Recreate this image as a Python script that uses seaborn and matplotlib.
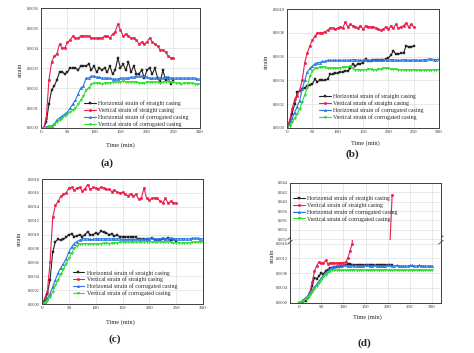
import matplotlib
matplotlib.use("Agg")
import matplotlib.pyplot as plt
import seaborn as sns
import numpy as np
from matplotlib.ticker import FormatStrFormatter, MultipleLocator

# strain values are typed in units of 1e-4
SCALE = 1e-4

t_straight = list(range(0, 251, 5))
t_corrugated = list(range(0, 301, 5))

# ---------------- panel (a) ----------------
black_a = [0, 0, 0.3, 1.2, 1.9, 2.1, 2.4, 2.8, 2.8, 2.7,
           2.8, 3.0, 3.0, 3.0, 2.9, 3.1, 3.1, 3.1, 3.2, 2.9,
           3.1, 2.8, 3.0, 2.9, 3.0, 2.8, 3.1, 2.7, 2.9, 3.5,
           3.0, 3.2, 2.9, 3.3, 2.8, 3.1, 2.7, 2.7, 2.9, 2.5,
           2.9, 3.0, 2.7, 3.0, 2.5, 2.3, 2.9, 2.4, 2.5, 2.2,
           2.4]
red_a = [0, 0, 0.5, 2.4, 3.3, 3.6, 3.7, 4.2, 4.0, 4.0,
         4.3, 4.4, 4.6, 4.5, 4.5, 4.6, 4.6, 4.6, 4.6, 4.5,
         4.5, 4.5, 4.5, 4.5, 4.6, 4.6, 4.5, 4.7, 4.8, 5.2,
         4.9, 4.6, 4.7, 4.6, 4.5, 4.5, 4.4, 4.2, 4.3, 4.2,
         4.3, 4.5, 4.3, 4.2, 4.1, 3.9, 3.9, 3.8, 3.6, 3.5,
         3.5]
blue_a = [0, 0, 0.05, 0.1, 0.1, 0.2, 0.4, 0.5, 0.6, 0.7,
          0.8, 1.0, 1.2, 1.4, 1.7, 2.0, 2.1, 2.5, 2.5, 2.6,
          2.6, 2.55, 2.55, 2.5, 2.5, 2.5, 2.5, 2.45, 2.45, 2.45,
          2.5, 2.5, 2.5, 2.5, 2.55, 2.55, 2.6, 2.6, 2.6, 2.6,
          2.55, 2.5, 2.5, 2.5, 2.5, 2.5, 2.5, 2.55, 2.55, 2.5,
          2.5, 2.5, 2.5, 2.5, 2.5, 2.5, 2.5, 2.5, 2.5, 2.45,
          2.45]
green_a = [0, 0, 0, 0.05, 0.05, 0.2, 0.3, 0.4, 0.5, 0.6,
           0.7, 0.8, 0.9, 1.0, 1.2, 1.4, 1.6, 1.9, 2.0, 2.2,
           2.25, 2.25, 2.25, 2.2, 2.25, 2.25, 2.25, 2.3, 2.3, 2.3,
           2.3, 2.35, 2.3, 2.3, 2.3, 2.3, 2.3, 2.25, 2.25, 2.25,
           2.3, 2.3, 2.3, 2.3, 2.3, 2.25, 2.3, 2.3, 2.35, 2.3,
           2.3, 2.25, 2.25, 2.2, 2.25, 2.25, 2.25, 2.25, 2.2, 2.2,
           2.2]

# ---------------- panel (b) ----------------
black_b = [0, 0.5, 1.2, 2.0, 3.0, 3.1, 3.3, 3.4, 3.5, 3.6,
           3.7, 4.1, 3.9, 4.0, 4.0, 4.0, 4.1, 4.5, 4.5, 4.6,
           4.6, 4.7, 4.7, 4.8, 4.8, 5.0, 5.4, 5.2, 5.4, 5.4,
           5.5, 5.8, 5.6, 5.6, 5.7, 5.7, 5.7, 5.7, 5.7, 5.8,
           5.9, 6.1, 6.5, 6.2, 6.2, 6.3, 6.3, 6.9, 6.8, 6.8,
           6.9]
red_b = [0, 0.6, 1.6, 2.4, 2.7, 3.2, 4.0, 5.5, 6.3, 6.9,
         7.4, 7.7, 8.0, 8.0, 8.0, 8.1, 8.2, 8.4, 8.4, 8.3,
         8.4, 8.5, 8.4, 8.9, 8.5, 8.7, 8.6, 8.5, 8.4, 8.6,
         8.3, 8.6, 8.5, 8.5, 8.5, 8.4, 8.3, 8.2, 8.3, 8.5,
         8.3, 8.6, 8.4, 8.7, 8.4, 8.5, 8.6, 8.8, 8.5, 8.7,
         8.5]
blue_b = [0, 0.3, 0.8, 1.3, 1.8, 2.3, 3.3, 4.0, 4.7, 5.0,
          5.2, 5.4, 5.5, 5.5, 5.6, 5.6, 5.7, 5.7, 5.7, 5.7,
          5.7, 5.7, 5.7, 5.7, 5.7, 5.7, 5.75, 5.75, 5.7, 5.7,
          5.7, 5.75, 5.7, 5.7, 5.7, 5.7, 5.7, 5.7, 5.75, 5.75,
          5.7, 5.75, 5.75, 5.7, 5.7, 5.7, 5.75, 5.75, 5.7, 5.7,
          5.75, 5.7, 5.7, 5.7, 5.75, 5.75, 5.8, 5.8, 5.75, 5.75,
          5.8]
green_b = [0, 0.2, 0.5, 0.8, 1.2, 1.6, 2.2, 2.8, 3.4, 4.4,
           4.8, 5.0, 5.0, 5.1, 5.1, 5.1, 5.0, 5.0, 5.0, 5.0,
           5.0, 5.05, 5.1, 5.1, 5.15, 5.2, 5.0, 4.9, 4.9, 4.9,
           4.9, 4.9, 4.95, 4.95, 4.9, 4.9, 4.95, 4.95, 5.0, 5.0,
           5.0, 4.95, 4.95, 4.95, 4.9, 4.9, 4.9, 4.9, 4.9, 4.9,
           4.9, 4.9, 4.85, 4.85, 4.85, 4.9, 4.85, 4.85, 4.9, 4.9,
           4.9]

# ---------------- panel (c) ----------------
black_c = [0, 0.5, 1.5, 3.5, 7.5, 9.0, 9.3, 9.2, 9.3, 9.6,
           10.0, 10.1, 9.7, 9.8, 10.0, 9.7, 10.0, 10.4, 10.0, 10.0,
           10.2, 10.1, 10.5, 10.3, 10.2, 10.0, 10.1, 9.8, 9.9, 9.7,
           9.7, 9.6, 9.7, 9.6, 9.7, 9.6, 9.3, 9.4, 9.3, 9.3,
           9.4, 9.5, 9.2, 9.2, 9.2, 9.4, 9.3, 9.5, 9.2, 9.3,
           9.1]
red_c = [0, 0.8, 1.8, 6.0, 12.5, 14.2, 14.8, 15.5, 15.8, 16.0,
         16.7, 16.8, 16.4, 16.7, 16.8, 16.3, 16.6, 17.2, 16.5, 16.8,
         16.7, 16.6, 16.8, 16.7, 16.5, 16.5, 16.2, 16.4, 16.1, 16.0,
         16.1, 15.8, 15.6, 15.9, 15.5, 15.8, 15.1, 15.2, 16.7, 15.2,
         15.0, 15.2, 15.3, 15.2, 14.8, 14.6, 15.2, 14.5, 14.8, 14.6,
         14.5]
blue_c = [0, 0.3, 0.8, 1.5, 2.5, 3.5, 4.5, 5.2, 5.8, 6.5,
          7.5, 8.2, 8.7, 9.0, 9.2, 9.4, 9.4, 9.4, 9.3, 9.3,
          9.4, 9.4, 9.4, 9.4, 9.4, 9.4, 9.4, 9.4, 9.4, 9.4,
          9.3, 9.3, 9.3, 9.3, 9.3, 9.3, 9.3, 9.3, 9.3, 9.4,
          9.4, 9.5, 9.4, 9.4, 9.4, 9.5, 9.4, 9.4, 9.5, 9.4,
          9.4, 9.4, 9.4, 9.4, 9.4, 9.4, 9.5, 9.5, 9.5, 9.4,
          9.4]
green_c = [0, 0.2, 0.5, 1.0, 1.8, 2.7, 3.5, 4.3, 5.0, 5.8,
           6.6, 7.3, 8.0, 8.4, 8.6, 8.7, 8.7, 8.7, 8.7, 8.6,
           8.7, 8.7, 8.7, 8.8, 8.8, 8.7, 8.8, 8.8, 8.8, 8.9,
           8.9, 8.9, 8.9, 8.9, 8.9, 8.9, 8.9, 8.9, 9.0, 9.0,
           9.0, 8.9, 8.9, 8.9, 8.9, 8.9, 9.0, 8.9, 8.9, 8.8,
           8.8, 8.8, 8.8, 8.8, 8.8, 8.8, 8.9, 8.9, 8.9, 8.9,
           8.9]

# ---------------- panel (d) ----------------
t_black_d = list(range(0, 211, 5))
black_d = [0, 0, 0.3, 0.5, 1.2, 2.5, 4.5, 6.8, 6.5, 7.2,
           8.0, 7.8, 8.5, 9.0, 9.3, 9.5, 9.6, 9.8, 9.8, 9.9,
           10.0, 10.2, 10.5, 10.4, 10.3, 10.3, 10.2, 10.3, 10.2, 10.3,
           10.2, 10.2, 10.3, 10.3, 10.2, 10.2, 10.3, 10.3, 10.3, 10.2,
           10.3, 10.3, 10.2]
t_red_d = [0, 5, 10, 15, 20, 25, 30, 35, 40, 45, 50, 55, 60, 65, 70,
           75, 80, 85, 90, 95, 100, 105, 110, 115, 120, 205, 210]
red_d = [0, 0.2, 0.8, 1.2, 1.8, 3.0, 5.5, 8.5, 10.0, 11.0,
         10.8, 10.7, 11.5, 10.6, 10.8, 10.8, 10.8, 10.8, 10.8, 10.9,
         10.9, 11.0, 12.0, 14.0, 16.0, 310, 414]
blue_d = [0, 0.3, 0.7, 1.2, 1.8, 2.6, 3.4, 4.2, 5.0, 5.8,
          6.6, 7.4, 8.0, 8.6, 9.2, 9.6, 9.8, 10.0, 10.0, 10.0,
          10.1, 10.1, 10.0, 10.0, 10.1, 10.0, 10.0, 10.0, 10.0, 10.0,
          10.1, 10.1, 10.0, 10.0, 10.1, 10.0, 10.0, 10.0, 10.0, 10.0,
          10.1, 10.1, 10.0, 10.0, 10.1, 10.0, 10.0, 10.0, 10.0, 10.0,
          10.1, 10.1, 10.0, 10.0, 10.1, 10.0, 10.0, 10.0, 10.0, 10.0,
          10.0]
green_d = [0, 0.2, 0.5, 1.0, 1.5, 2.2, 3.0, 3.8, 4.6, 5.4,
           6.2, 7.0, 7.6, 8.2, 8.6, 8.8, 8.8, 8.8, 8.8, 8.8,
           8.8, 8.8, 8.8, 8.8, 8.8, 8.85, 8.8, 8.8, 8.8, 8.8,
           8.8, 8.8, 8.8, 8.8, 8.85, 8.8, 8.8, 8.8, 8.8, 8.8,
           8.8, 8.8, 8.8, 8.8, 8.8, 8.8, 8.8, 8.8, 8.8, 8.8,
           8.8, 8.8, 8.8, 8.8, 8.8, 8.8, 8.8, 8.8, 8.8, 8.8,
           8.8]

labels = ["Horizontal strain of straight casing",
          "Vertical strain of straight casing",
          "Horizontal strain of corrugated casing",
          "Vertical strain of corrugated casing"]
colors = ["#222222", "#ec1f4b", "#2a78e6", "#2fe02f"]
markers = ["s", "o", "^", "v"]

sns.set_theme(style="whitegrid")
plt.rcParams["font.family"] = ["Liberation Serif", "DejaVu Serif"]
plt.rcParams["axes.edgecolor"] = "#404040"
plt.rcParams["axes.linewidth"] = 0.7
plt.rcParams["grid.color"] = "#e0e0e0"
plt.rcParams["grid.linewidth"] = 0.5

fig = plt.figure(figsize=(4.74, 3.53), dpi=100)


def draw_series(ax, series):
    for (t, v), lab, col, mk in zip(series, labels, colors, markers):
        sns.lineplot(x=np.array(t), y=np.array(v) * SCALE, ax=ax, color=col,
                     marker=mk, markersize=1.8, markeredgewidth=0.3,
                     markeredgecolor=col, linewidth=0.8, label=lab,
                     errorbar=None)


def style_axes(ax, ymax, ystep, yfmt, xlim=(0, 300)):
    ax.set_xlim(*xlim)
    ax.set_ylim(0, ymax)
    ax.xaxis.set_major_locator(MultipleLocator(50))
    ax.xaxis.set_minor_locator(MultipleLocator(25))
    ax.yaxis.set_major_locator(MultipleLocator(ystep))
    ax.yaxis.set_minor_locator(MultipleLocator(ystep / 2))
    ax.yaxis.set_major_formatter(FormatStrFormatter(yfmt))
    ax.tick_params(which="both", direction="in", width=0.5, pad=1.5,
                   colors="#404040", labelcolor="#333333")
    ax.tick_params(which="major", length=2)
    ax.tick_params(which="minor", length=1.2)
    ax.tick_params(axis="x", labelsize=3.6)
    ax.tick_params(axis="y", labelsize=3.2)
    ax.grid(which="minor", visible=False)
    ax.set_xlabel("")
    ax.set_ylabel("")


def legend(ax, anchor, loc="lower left"):
    leg = ax.legend(loc=loc, bbox_to_anchor=anchor, frameon=False,
                    fontsize=4.2, borderaxespad=0, borderpad=0,
                    handlelength=2.0, handletextpad=0.4, labelspacing=0.2)
    for h in leg.legend_handles:
        h.set_markersize(1.8)
        h.set_markeredgewidth(0.3)


# (a)
ax_a = fig.add_axes([0.0865, 0.6374, 0.3354, 0.3399])
draw_series(ax_a, [(t_straight, black_a), (t_straight, red_a),
                   (t_corrugated, blue_a), (t_corrugated, green_a)])
style_axes(ax_a, 0.0006, 0.0001, "%.4f")
legend(ax_a, (0.27, 0.01))

# (b)
ax_b = fig.add_axes([0.6055, 0.6374, 0.3207, 0.3371])
draw_series(ax_b, [(t_straight, black_b), (t_straight, red_b),
                   (t_corrugated, blue_b), (t_corrugated, green_b)])
style_axes(ax_b, 0.0010, 0.0002, "%.4f")
legend(ax_b, (0.21, 0.07))

# (c)
ax_c = fig.add_axes([0.0886, 0.1388, 0.3397, 0.3541])
draw_series(ax_c, [(t_straight, black_c), (t_straight, red_c),
                   (t_corrugated, blue_c), (t_corrugated, green_c)])
style_axes(ax_c, 0.0018, 0.0002, "%.4f")
legend(ax_c, (0.19, 0.065))

# (d) broken y axis: lower and upper part
ax_d1 = fig.add_axes([0.6118, 0.1425, 0.3186, 0.1776])
ax_d2 = fig.add_axes([0.6118, 0.3201, 0.3186, 0.1615], sharex=ax_d1)
series_d = [(t_black_d, black_d), (t_red_d, red_d),
            (t_corrugated, blue_d), (t_corrugated, green_d)]
draw_series(ax_d1, series_d)
draw_series(ax_d2, series_d)
style_axes(ax_d1, 0.0017, 0.0004, "%.4f", xlim=(-20, 320))
style_axes(ax_d2, 0.044, 0.002, "%.3f", xlim=(-20, 320))
ax_d2.set_ylim(0.0318, 0.044)
ax_d1.get_legend().remove()
ax_d2.tick_params(axis="x", labelbottom=False)
ax_d1.spines["top"].set_visible(False)
ax_d2.spines["bottom"].set_visible(False)
legend(ax_d2, (0.02, 0.78), loc="upper left")

# break marks on both spines
for xs in (0, 1):
    for dy in (-0.035, 0.035):
        ax_d1.plot([xs - 0.015, xs + 0.015], [1 + dy - 0.03, 1 + dy + 0.03],
                   transform=ax_d1.transAxes, color="#404040", lw=0.6,
                   clip_on=False)

# axis titles and panel letters
for x, y, s in [(0.253, 0.589, "Time (min)"), (0.770, 0.595, "Time (min)"),
                (0.253, 0.088, "Time (min)"), (0.774, 0.102, "Time (min)")]:
    fig.text(x, y, s, ha="center", va="center", fontsize=4.6)
for x, y in [(0.042, 0.802), (0.561, 0.824), (0.040, 0.323), (0.574, 0.275)]:
    fig.text(x, y, "strain", ha="center", va="center", rotation=90,
             fontsize=4.6)
for x, y, s in [(0.225, 0.538, "(a)"), (0.743, 0.564, "(b)"),
                (0.243, 0.040, "(c)"), (0.768, 0.029, "(d)")]:
    fig.text(x, y, s, ha="center", va="center", fontsize=8,
             fontweight="bold")

fig.savefig("out.png", dpi=100)
